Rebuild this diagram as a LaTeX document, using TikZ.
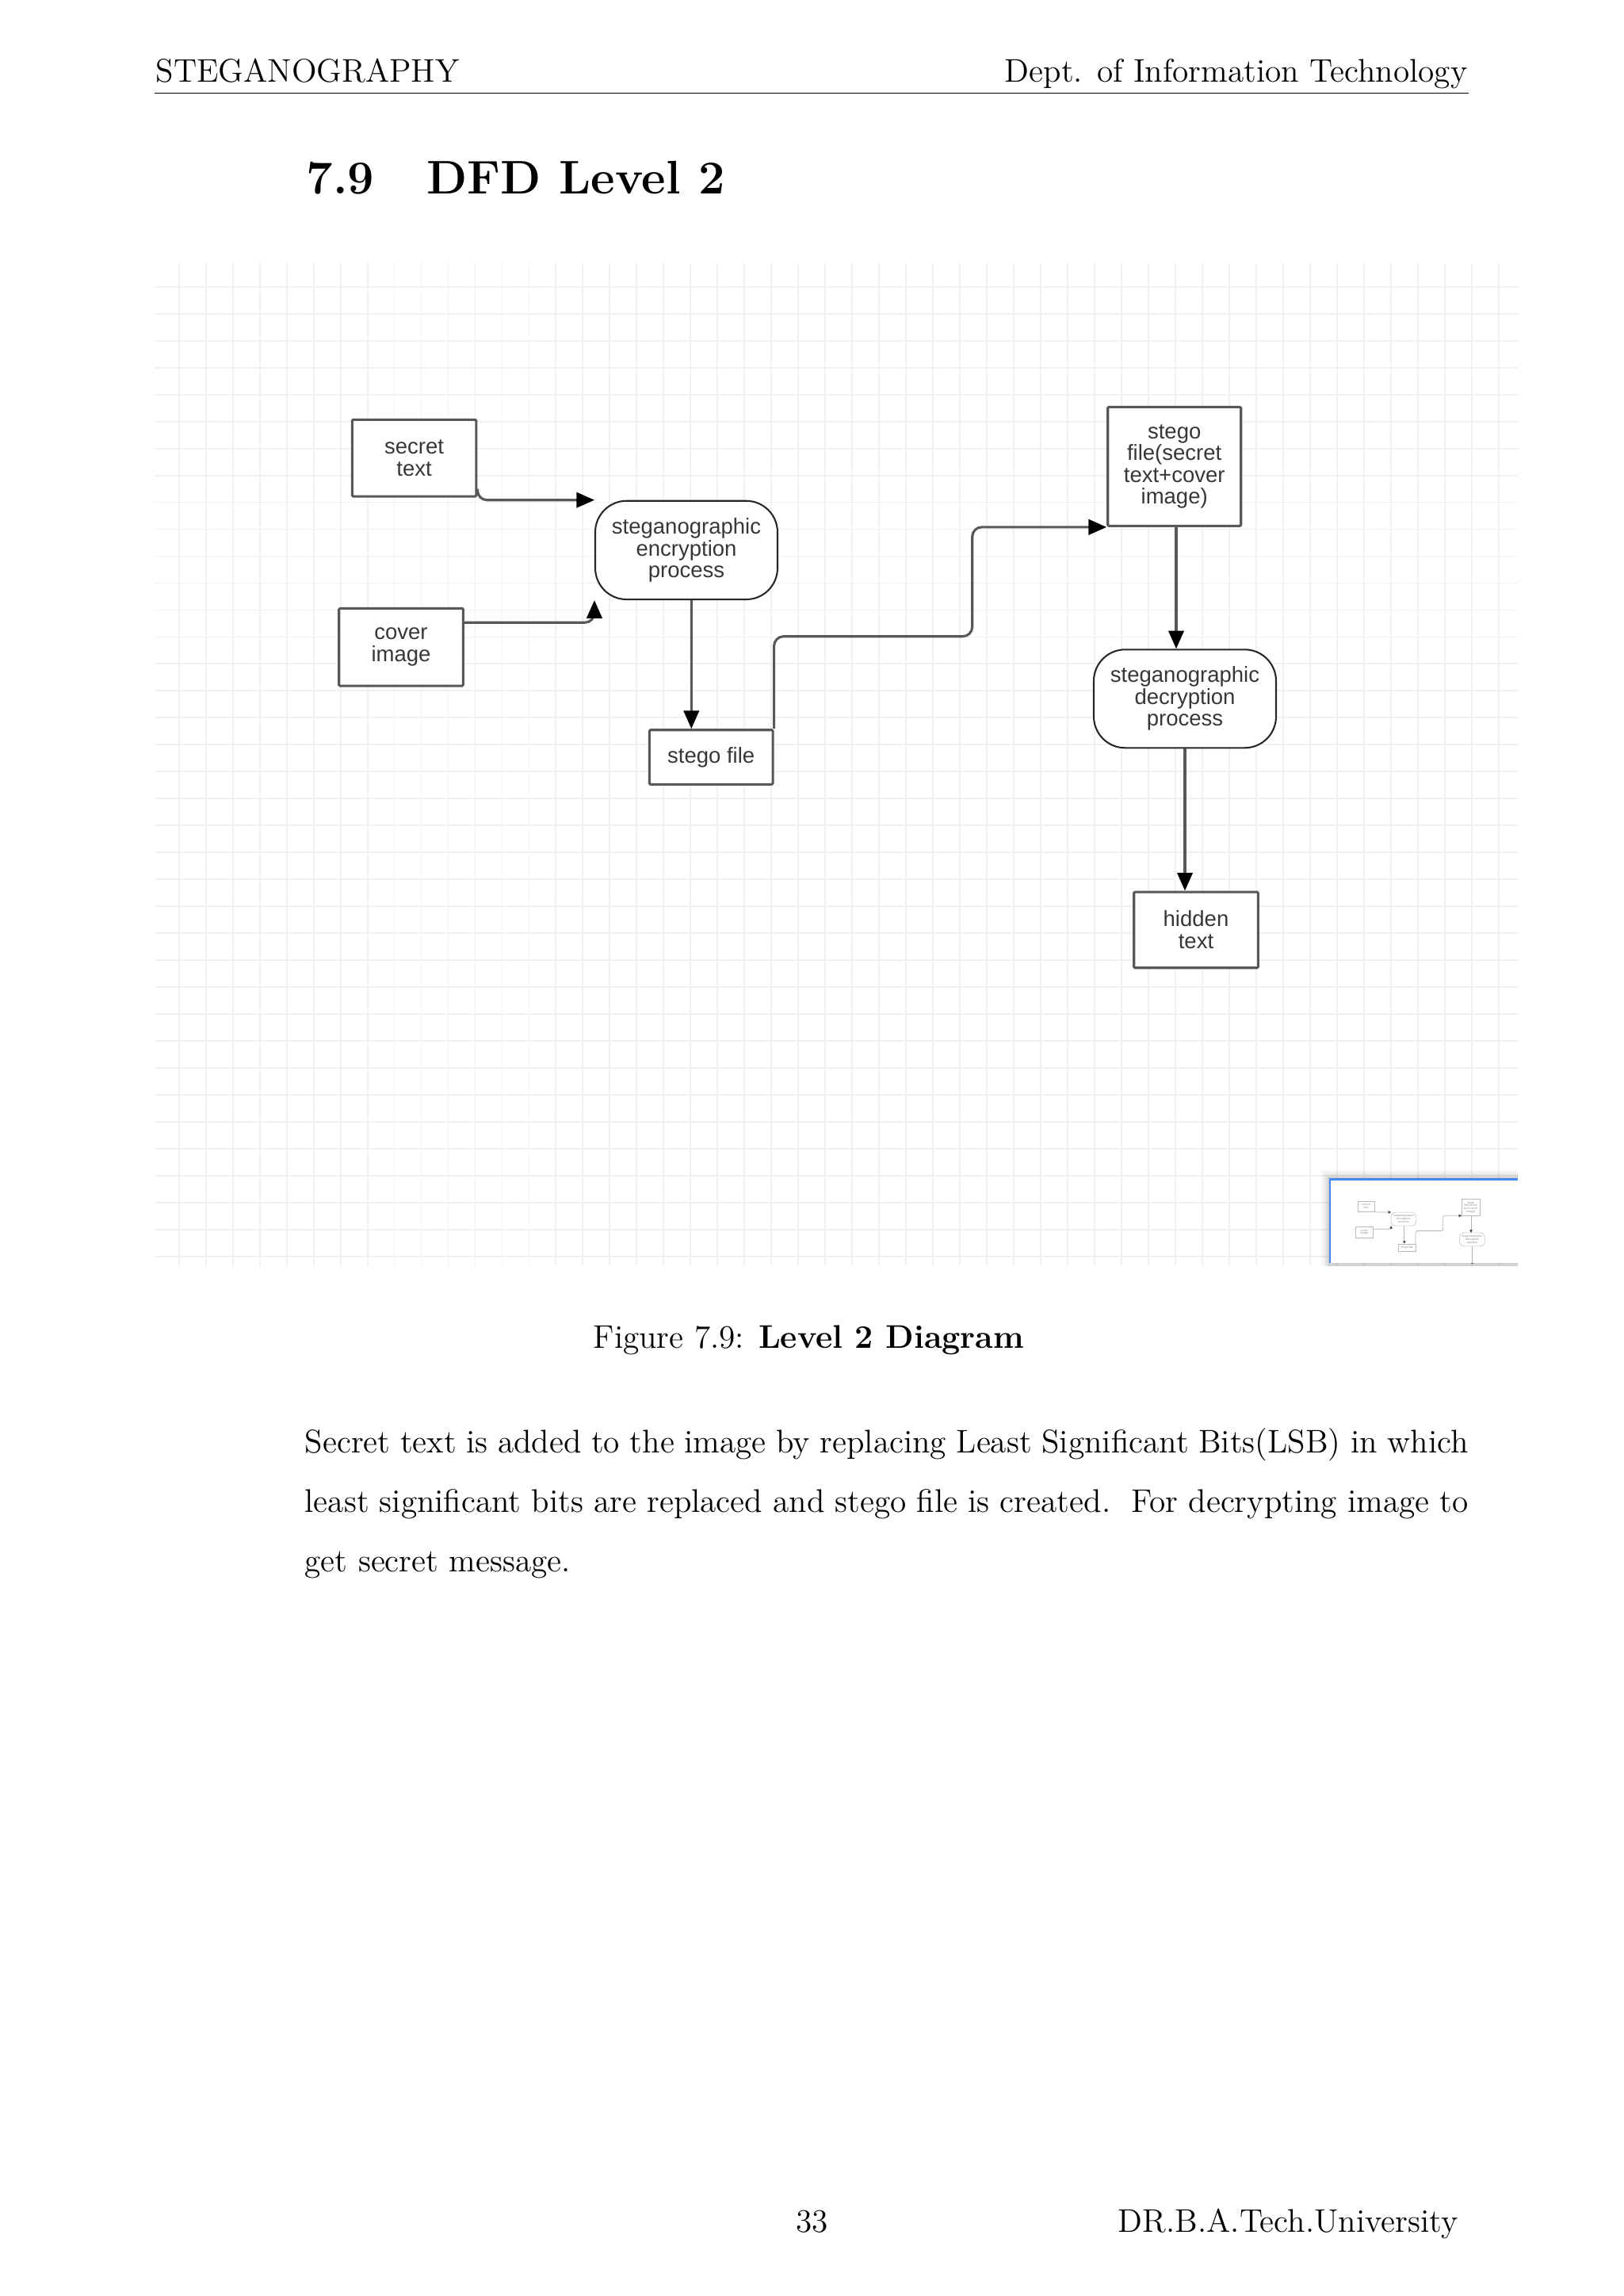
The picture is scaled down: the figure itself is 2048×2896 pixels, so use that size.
\documentclass[tikz,border=0pt]{standalone}
\usepackage{fontspec}
\newfontfamily\dia{Liberation Sans}
\usetikzlibrary{arrows.meta}
\newcommand\pxu{0.290664pt}
\definecolor{gridc}{RGB}{241,241,241}
\definecolor{boxc}{RGB}{88,88,88}
\definecolor{txtc}{RGB}{55,55,55}
\definecolor{insetblue}{RGB}{70,135,240}

\tikzset{
  dbox/.style={draw=boxc, line width=0.9pt, fill=white, rounded corners=0.4pt,
    inner sep=0pt, align=center, font=\dia\fontsize{8}{8}\selectfont, text=txtc},
  dproc/.style={draw=black!85, line width=0.6pt, fill=white, rounded corners=11.5pt,
    inner sep=0pt, align=center, font=\dia\fontsize{8}{8}\selectfont, text=txtc},
  dflow/.style={draw=boxc, line width=0.9pt, rounded corners=3.5pt,
    -{Triangle[length=6.6pt,width=5.6pt,color=black]}},
  gridline/.style={draw=gridc, line width=0.55pt},
  pagetext/.style={inner sep=0pt, font=\fontsize{12}{14.5}\selectfont},
}

\newcommand\DrawDFD[1]{%
  \node[dbox, minimum width={156.6*\pxu}, minimum height={96.7*\pxu}] (#1secret) at (522.6,577.7) {secret\\text};
  \node[dbox, minimum width={156.6*\pxu}, minimum height={97.7*\pxu}] (#1cover) at (506,816.2) {cover\\image};
  \node[dproc, minimum width={230*\pxu}, minimum height={124.3*\pxu}] (#1enc) at (866,693.9) {steganographic\\encryption\\process};
  \node[dbox, minimum width={155.7*\pxu}, minimum height={68.6*\pxu}] (#1sfile) at (897.2,955) {stego file};
  \node[dbox, minimum width={168*\pxu}, minimum height={150*\pxu}] (#1stego) at (1481.7,588.3) {stego\\file(secret\\text+cover\\image)};
  \node[dproc, minimum width={230*\pxu}, minimum height={124*\pxu}] (#1dec) at (1495,881.3) {steganographic\\decryption\\process};
  \node[dbox, minimum width={156.6*\pxu}, minimum height={95.7*\pxu}] (#1hidden) at (1509,1172.9) {hidden\\text};
  \path (#1secret.south east) ++(0,-11) coordinate (#1s1);
  \draw[dflow] (#1s1) |- (#1enc.north west);
  \path (#1cover.north east) ++(0,19.4) coordinate (#1c1);
  \draw[dflow] (#1c1) -| (#1enc.south west);
  \path (#1enc.south) ++(6.3,0) coordinate (#1e1);
  \draw[dflow] (#1e1) -- (#1e1 |- #1sfile.north);
  \coordinate (#1bend) at (1226.7,802.7);
  \draw[dflow] (#1sfile.north east) |- (#1bend) |- (#1stego.south west);
  \path (#1stego.south) ++(2.3,0) coordinate (#1t1);
  \draw[dflow] (#1t1) -- (#1t1 |- #1dec.north);
  \draw[dflow] (#1dec.south) -- (#1dec.south |- #1hidden.north);
}

\begin{document}
\begin{tikzpicture}[x=0.290664pt, y=-0.290664pt]
\useasboundingbox (0,0) rectangle (2048,2896);
\fill[white] (0,0) rectangle (2048,2896);

% header
\node[pagetext, anchor=base west] (hdrL) at (196,103) {STEGANOGRAPHY};
\node[pagetext, anchor=base east] (hdrR) at (1852,103) {Dept. of Information Technology};
\draw[line width=0.4pt] (195,117.7) -- (1853,117.7);

% section heading
\node[inner sep=0pt, anchor=base west, font=\fontsize{17.28}{21}\selectfont\bfseries] (secnum) at (386,244) {7.9};
\node[inner sep=0pt, anchor=base west, font=\fontsize{17.28}{21}\selectfont\bfseries] (sectitle) at (538,244) {DFD Level 2};

% grid background
\foreach \k in {0,...,49} \draw[gridline] ({225.7+33.98*\k},332) -- ({225.7+33.98*\k},1597);
\foreach \k in {0,...,36} \draw[gridline] (195,{361.7+33.98*\k}) -- (1915,{361.7+33.98*\k});

% minimap inset
\begin{scope}
  \clip (1660,1470) rectangle (1915,1597);
  \foreach \d/\o in {12/0.025,9/0.035,6/0.05,3/0.07}
    \fill[black, opacity=\o] ({1678-\d},{1487-\d}) rectangle (1915,1597);
\end{scope}
\fill[white] (1678,1487) rectangle (1915,1593);
\begin{scope}
  \clip (1679,1488) rectangle (1915,1593);
  \begin{scope}[shift={(1651.77,1442.07)}, scale=0.1376, transform shape,
    dbox/.style={draw=gray!55, line width=0.15pt, fill=white, inner sep=0pt, align=center,
      font=\dia\fontsize{8}{8}\selectfont, text=gray!80},
    dproc/.style={draw=gray!55, line width=0.15pt, fill=white, rounded corners=1.6pt, inner sep=0pt,
      align=center, font=\dia\fontsize{8}{8}\selectfont, text=gray!80},
    dflow/.style={draw=gray!60, line width=0.2pt, rounded corners=0.5pt,
      -{Triangle[length=1pt,width=1pt,color=black!75]}}]
    \DrawDFD{m}
  \end{scope}
\end{scope}
\draw[insetblue, line width=0.7pt] (1678,1593) -- (1678,1487.3) -- (1915,1487.3);

% main diagram
\DrawDFD{}

% caption
\node[pagetext, anchor=base west] (cap) at (748,1700) {Figure 7.9: \textbf{Level 2 Diagram}};

% body text
\node[pagetext, anchor=base west] (body1) at (384,1832.7) {\makebox[426.7pt][s]{Secret text is added to the image by replacing Least Significant Bits(LSB) in which}};
\node[pagetext, anchor=base west] (body2) at (384,1907.7) {\makebox[426.7pt][s]{least significant bits are replaced and stego file is created.\ \ For decrypting image to}};
\node[pagetext, anchor=base west] (body3) at (384,1982.7) {get secret message.};

% footer
\node[pagetext, anchor=base west] (pnum) at (1004,2815) {33};
\node[pagetext, anchor=base east] (ftr) at (1840,2815) {DR.B.A.Tech.University};
\end{tikzpicture}
\end{document}
